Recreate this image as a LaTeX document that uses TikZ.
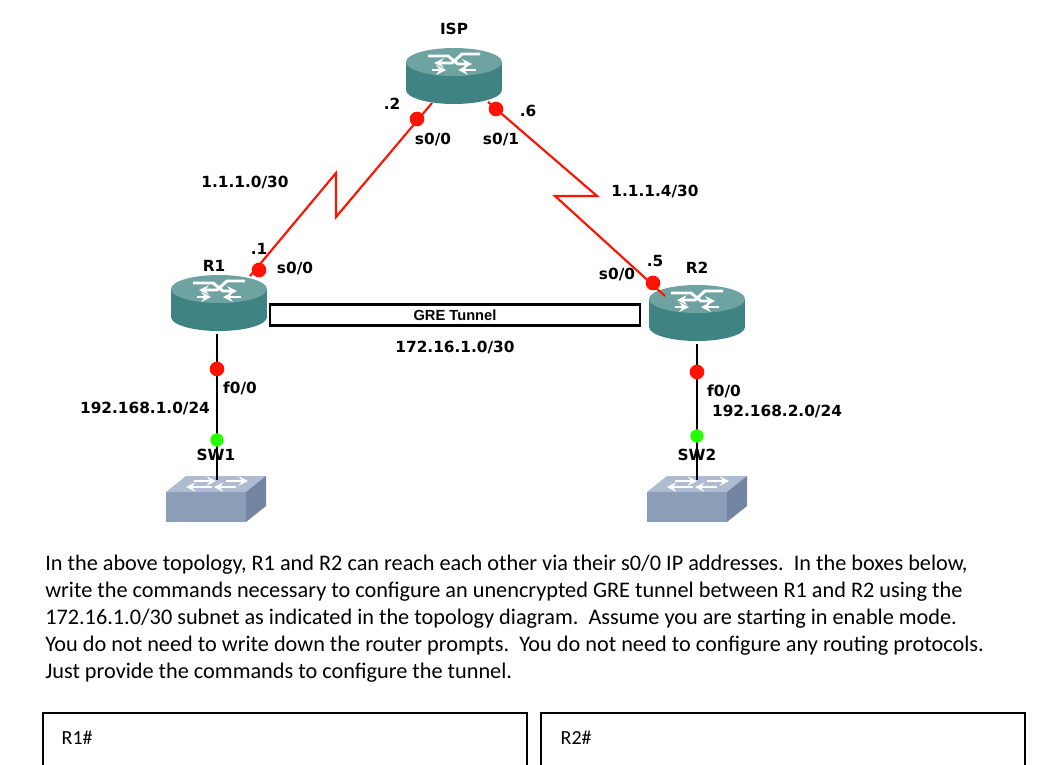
\documentclass[tikz,border=0pt]{standalone}
\usepackage{fontspec}
\setmainfont{Carlito}
\newfontfamily\lbl{DejaVu Sans}
\newfontfamily\narrow{Liberation Sans}
\definecolor{rbody}{HTML}{3F8482}
\definecolor{rtop}{HTML}{6FA3A2}
\definecolor{swtop}{HTML}{AEBBD0}
\definecolor{swfront}{HTML}{8C9DB8}
\definecolor{swside}{HTML}{7485A2}
\begin{document}
\begin{tikzpicture}[x=0.75pt,y=-0.75pt,
 lab/.style={font=\lbl\fontsize{11.5}{12}\selectfont\bfseries, inner sep=0},
 red dot/.style={circle,fill=red!85!orange,inner sep=0,minimum size=11pt},
 green dot/.style={circle,fill=green!80!lime,inner sep=0,minimum size=10pt},
 wan/.style={draw=red!85!orange,line width=1.6pt},
 lan/.style={draw=black,line width=1.6pt},
 router/.pic={
   \fill[rbody] (-48,0) rectangle (48,28);
   \fill[rbody] (0,28) ellipse[x radius=48,y radius=14];
   \fill[rtop] (0,0) ellipse[x radius=48,y radius=14];
   \draw[white,line width=2.2pt,-stealth] (-26,-6) -- (-6,-6) -- (4,2) -- (18,2);
   \draw[white,line width=2.2pt,-stealth] (26,-8) -- (8,-8) -- (-2,1) -- (-20,1);
   \draw[white,line width=2.2pt,-stealth] (22,8) -- (4,8);
   \draw[white,line width=2.2pt,-stealth] (-22,8) -- (-8,8);
 },
 switch/.pic={
   \fill[swfront] (-50,0) rectangle (30,30);
   \fill[swtop] (-50,0) -- (-30,-16) -- (50,-16) -- (30,0) -- cycle;
   \fill[swside] (30,0) -- (50,-16) -- (50,14) -- (30,30) -- cycle;
   \draw[white,line width=2pt,-stealth] (-22,-11) -- (0,-11);
   \draw[white,line width=2pt,-stealth] (10,-11) -- (32,-11);
   \draw[white,line width=2pt,-stealth] (-4,-5) -- (-30,-5);
   \draw[white,line width=2pt,-stealth] (20,-5) -- (-2,-5);
 }]
\useasboundingbox (0,0) rectangle (1042,764);
% routers
\pic at (454,62) {router};
\pic at (219,289) {router};
\pic at (697,299) {router};
% switches
\pic at (216,492) {switch};
\pic at (697,492) {switch};
% WAN links
\coordinate (ispL) at (432,103);
\coordinate (ispR) at (488,102);
\coordinate (r1s) at (250,276);
\coordinate (r2s) at (665,296);
\coordinate (zl1) at (336,173);
\coordinate (zl2) at (336,217);
\coordinate (zr1) at (597,196);
\coordinate (zr2) at (555,196);
\draw[wan] (r1s) -- (zl1) -- (zl2) -- (ispL);
\draw[wan] (ispR) -- (zr1) -- (zr2) -- (r2s);
\node[red dot] (d1) at (417,119) {};
\node[red dot] (d2) at (496,109) {};
\node[red dot] (d3) at (259,270) {};
\node[red dot] (d4) at (653,283) {};
% LAN links
\coordinate (r1b) at (217,334);
\coordinate (r2b) at (697,344);
\coordinate (sw1) at (217,480);
\coordinate (sw2) at (697,480);
\draw[lan] (r1b) -- (sw1);
\draw[lan] (r2b) -- (sw2);
\node[red dot] (d5) at (217,369) {};
\node[green dot] (g1) at (217,440) {};
\node[red dot] (d6) at (697,372) {};
\node[green dot] (g2) at (697,436) {};
% tunnel
\node[draw,line width=1.6pt,minimum width=370*0.75pt,minimum height=21*0.75pt,inner sep=0,
  font=\narrow\fontsize{11}{12}\selectfont\bfseries] (gre) at (455,315) {GRE Tunnel};
% labels
\node[lab] (lisp) at (454,29) {ISP};
\node[lab] at (392,104) {.2};
\node[lab] at (528,111) {.6};
\node[lab] at (433,140) {s0/0};
\node[lab] at (501,140) {s0/1};
\node[lab] at (245,183) {1.1.1.0/30};
\node[lab] at (655,192) {1.1.1.4/30};
\node[lab] at (259,249) {.1};
\node[lab] at (214,266) {R1};
\node[lab] at (295,269) {s0/0};
\node[lab] at (617,275) {s0/0};
\node[lab] at (655,261) {.5};
\node[lab] at (697,268) {R2};
\node[lab] at (455,348) {172.16.1.0/30};
\node[lab] at (240,388) {f0/0};
\node[lab] at (145,409) {192.168.1.0/24};
\node[lab] at (216,455) {SW1};
\node[lab] at (724,391) {f0/0};
\node[lab] at (777,412) {192.168.2.0/24};
\node[lab] at (697,455) {SW2};
% paragraph
\node[anchor=north west,inner sep=0,align=left,font=\fontsize{16.7}{20.25}\selectfont] (para) at (45,555) {%
In the above topology, R1 and R2 can reach each other via their s0/0 IP addresses.\ \ In the boxes below,\\
write the commands necessary to configure an unencrypted GRE tunnel between R1 and R2 using the\\
172.16.1.0/30 subnet as indicated in the topology diagram.\ \ Assume you are starting in enable mode.\\
You do not need to write down the router prompts.\ \ You do not need to configure any routing protocols.\\
Just provide the commands to configure the tunnel.};
% answer boxes
\draw[line width=1pt] (43,770) -- (43,713) -- (527,713) -- (527,770);
\draw[line width=1pt] (541,770) -- (541,713) -- (1025,713) -- (1025,770);
\node[anchor=west,font=\fontsize{15}{16}\selectfont] (b1) at (57,738) {R1\#};
\node[anchor=west,font=\fontsize{15}{16}\selectfont] (b2) at (556,738) {R2\#};
\end{tikzpicture}
\end{document}
